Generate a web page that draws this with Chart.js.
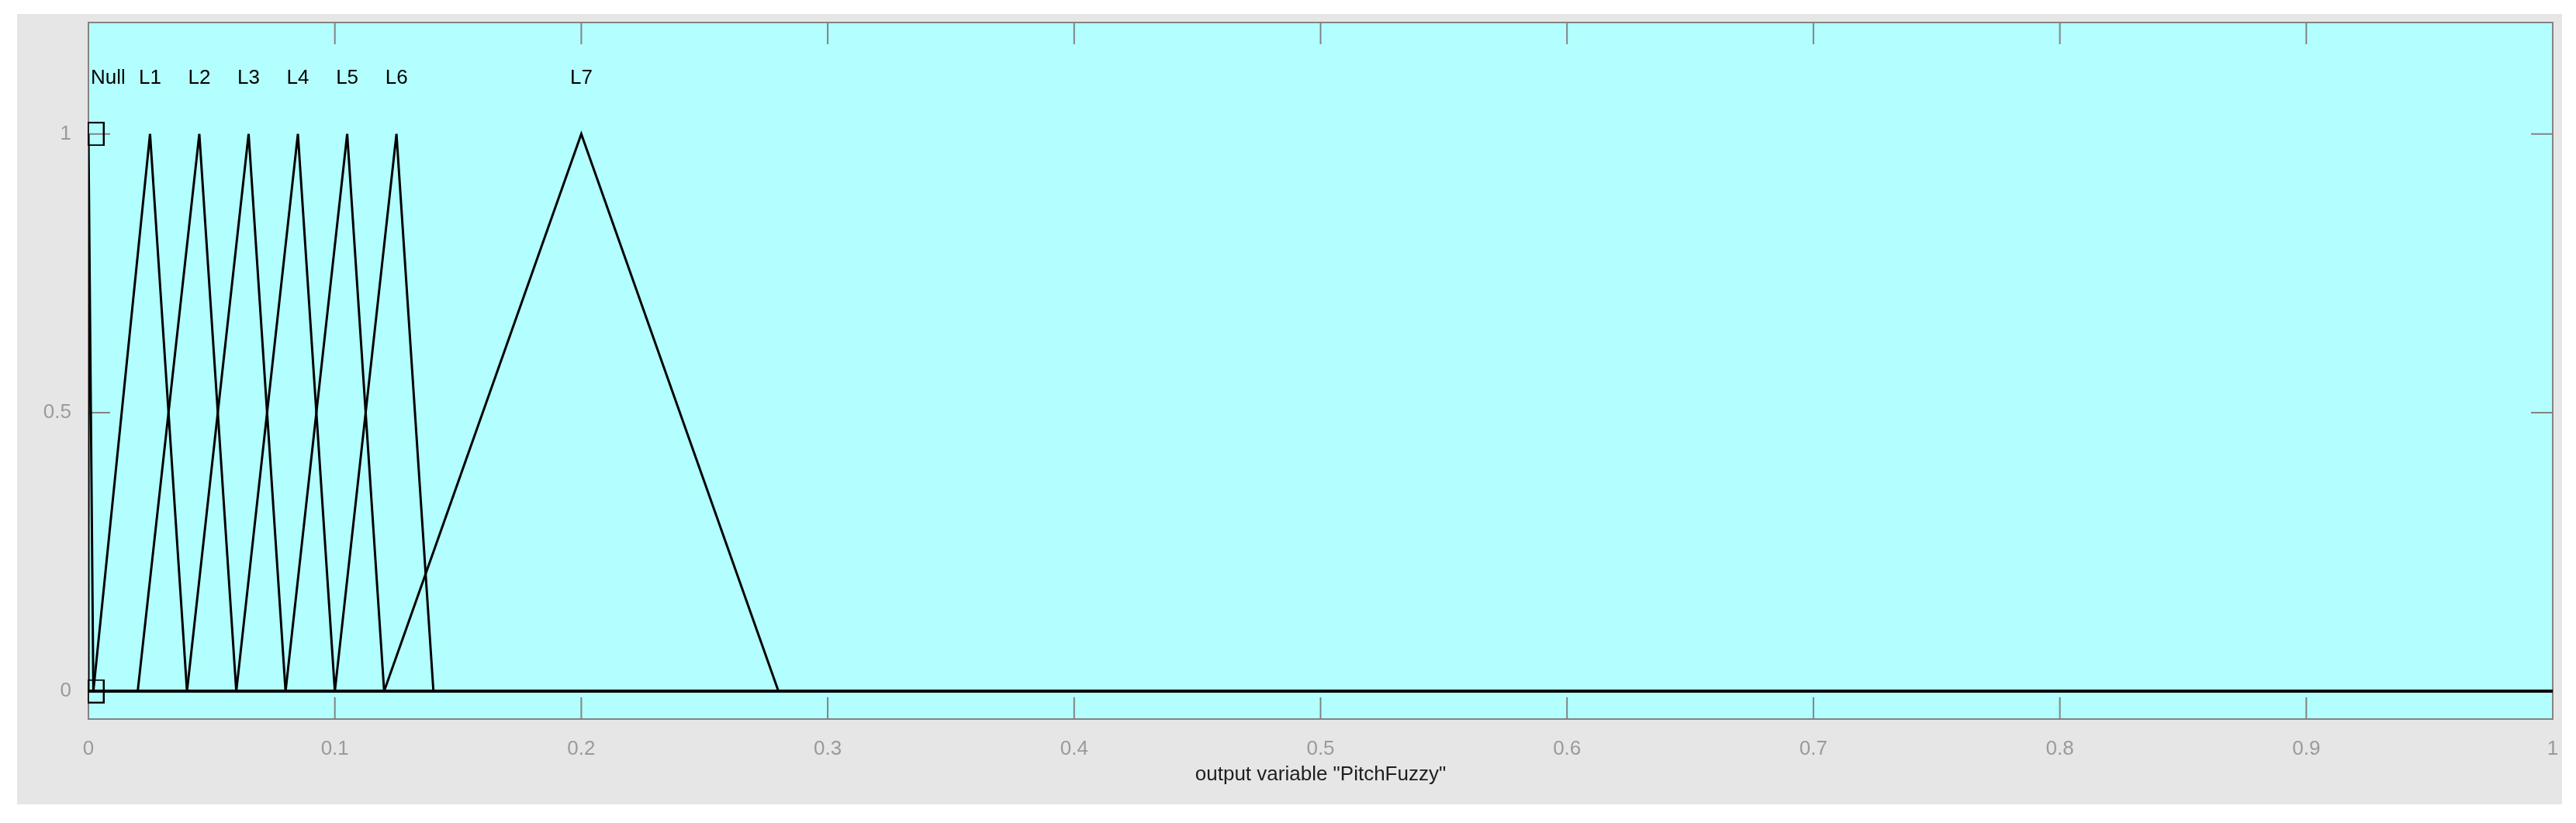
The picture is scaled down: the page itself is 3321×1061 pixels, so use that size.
<!DOCTYPE html>
<html>
<head>
<meta charset="utf-8">
<script src="https://cdn.jsdelivr.net/npm/chart.js@4.4.1/dist/chart.umd.min.js"></script>
<style>
    html, body { margin: 0; padding: 0; background: #ffffff; }
    #frame {
        position: absolute; left: 22px; top: 18px;
        width: 3281px; height: 1019px;
        background: #e6e6e6;
    }
</style>
</head>
<body>
<div id="frame"><canvas id="mfChart"></canvas></div>
<script>
// membership functions of output variable "PitchFuzzy" (trimf params a, b, c)
const mfNames = ["Null", "L1", "L2", "L3", "L4", "L5", "L6", "L7"];
const mfParams = [
    [0, 0, 0.002],
    [0.002, 0.025, 0.04],
    [0.02, 0.045, 0.06],
    [0.04, 0.065, 0.08],
    [0.06, 0.085, 0.1],
    [0.08, 0.105, 0.12],
    [0.1, 0.125, 0.14],
    [0.12, 0.2, 0.28]
];
const xTicks = [0, 0.1, 0.2, 0.3, 0.4, 0.5, 0.6, 0.7, 0.8, 0.9, 1];
const yTicks = [0, 0.5, 1];
const handleX = [0.003, 0.003];
const handleY = [1, 0];
const xTitle = 'output variable "PitchFuzzy"';

const FONT = "'Liberation Sans', Arial, sans-serif";

function mfPoints(p) {
    return [
        {x: 0, y: 0},
        {x: p[0], y: 0},
        {x: p[1], y: 1},
        {x: p[2], y: 0},
        {x: 1, y: 0}
    ];
}

function handleImage() {
    let c = document.createElement("canvas");
    c.width = 22;
    c.height = 31;
    let g = c.getContext("2d");
    g.strokeStyle = "#000";
    g.lineWidth = 2;
    g.strokeRect(1, 1, 20, 29);
    return c;
}

function noPadding(scale) {
    scale.paddingTop = 0;
    scale.paddingBottom = 0;
    scale.paddingLeft = 0;
    scale.paddingRight = 0;
}

let datasets = [];
for (let i = 0; i < mfParams.length; i++) {
    datasets.push({
        label: mfNames[i],
        data: mfPoints(mfParams[i]),
        borderColor: "#000000",
        borderWidth: 3,
        pointRadius: 0,
        tension: 0,
        fill: false
    });
}
let handles = [];
for (let i = 0; i < handleX.length; i++) {
    handles.push({x: handleX[i], y: handleY[i]});
}
datasets.push({
    label: "handles",
    data: handles,
    showLine: false,
    pointStyle: handleImage(),
    pointRadius: 10,
    clip: false
});

const axesPlugin = {
    id: "matlabAxes",
    beforeDatasetsDraw(chart) {
        let ctx = chart.ctx;
        let a = chart.chartArea;
        let xs = chart.scales.x;
        let ys = chart.scales.y;
        ctx.save();
        ctx.fillStyle = "#b3ffff";
        ctx.fillRect(a.left, a.top, a.right - a.left, a.bottom - a.top);
        ctx.strokeStyle = "#838383";
        ctx.lineWidth = 2;
        let tl = 28;
        ctx.beginPath();
        for (let v of xTicks) {
            let px = xs.getPixelForValue(v);
            ctx.moveTo(px, a.bottom);
            ctx.lineTo(px, a.bottom - tl);
            ctx.moveTo(px, a.top);
            ctx.lineTo(px, a.top + tl);
        }
        for (let v of yTicks) {
            let py = ys.getPixelForValue(v);
            ctx.moveTo(a.left, py);
            ctx.lineTo(a.left + tl, py);
            ctx.moveTo(a.right, py);
            ctx.lineTo(a.right - tl, py);
        }
        ctx.stroke();
        ctx.strokeRect(a.left, a.top, a.right - a.left, a.bottom - a.top);
        ctx.restore();
    },
    afterDatasetsDraw(chart) {
        let ctx = chart.ctx;
        let xs = chart.scales.x;
        let ys = chart.scales.y;
        ctx.save();
        ctx.fillStyle = "#000000";
        ctx.font = "26px " + FONT;
        ctx.textBaseline = "middle";
        let py = ys.getPixelForValue(1.1);
        for (let i = 0; i < mfNames.length; i++) {
            let peak = mfParams[i][1];
            if (peak <= 0) {
                ctx.textAlign = "left";
                ctx.fillText(mfNames[i], xs.getPixelForValue(0) + 3, py);
            } else {
                ctx.textAlign = "center";
                ctx.fillText(mfNames[i], xs.getPixelForValue(peak), py);
            }
        }
        ctx.restore();
    }
};

let ctx = document.getElementById("mfChart").getContext("2d");
let chart = new Chart(ctx, {
    type: "line",
    data: {datasets: datasets},
    options: {
        responsive: true,
        maintainAspectRatio: false,
        animation: false,
        layout: {padding: {top: 6, right: 12, left: 0, bottom: 0}},
        plugins: {
            legend: {display: false},
            tooltip: {enabled: false}
        },
        scales: {
            x: {
                type: "linear",
                min: 0,
                max: 1,
                grid: {display: false},
                border: {display: false},
                afterBuildTicks: function(scale) {
                    scale.ticks = xTicks.map(v => ({value: v}));
                },
                afterFit: function(scale) {
                    scale.height = 110;
                    noPadding(scale);
                },
                ticks: {
                    padding: 15,
                    color: "#9a9a9a",
                    font: {family: FONT, size: 26},
                    maxRotation: 0,
                    autoSkip: false,
                    callback: v => String(Number(v.toFixed(1)))
                },
                title: {
                    display: true,
                    text: xTitle,
                    color: "#1e1e1e",
                    font: {family: FONT, size: 26},
                    padding: {top: 0, bottom: 23}
                }
            },
            y: {
                type: "linear",
                min: -0.05,
                max: 1.2,
                grid: {display: false},
                border: {display: false},
                afterBuildTicks: function(scale) {
                    scale.ticks = yTicks.map(v => ({value: v}));
                },
                afterFit: function(scale) {
                    scale.width = 92;
                    noPadding(scale);
                },
                ticks: {
                    padding: 14,
                    color: "#9a9a9a",
                    font: {family: FONT, size: 26},
                    callback: v => String(v)
                }
            }
        }
    },
    plugins: [axesPlugin]
});
</script>
</body>
</html>
